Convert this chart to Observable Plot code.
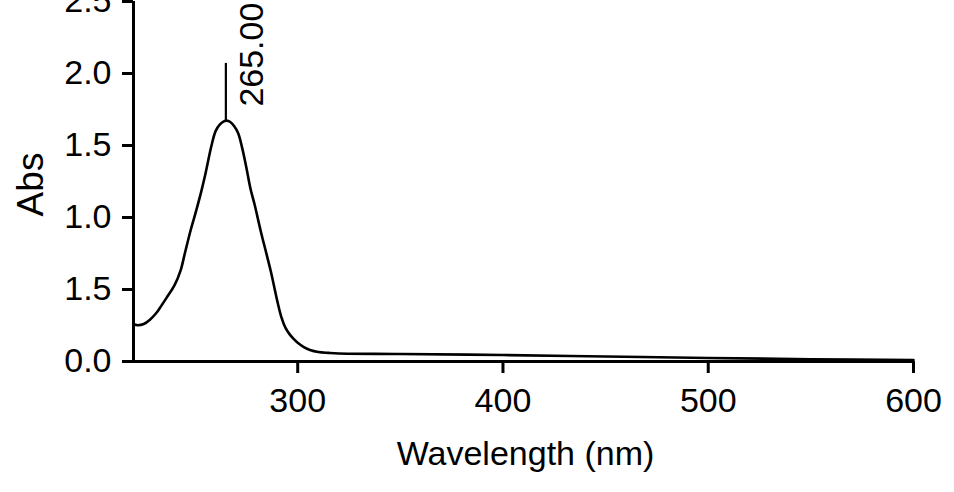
<!DOCTYPE html>
<html>
<head>
<meta charset="utf-8">
<script src="https://cdn.jsdelivr.net/npm/d3@7"></script>
<script src="https://cdn.jsdelivr.net/npm/@observablehq/plot@0.6"></script>
<style>
  html, body { margin: 0; padding: 0; background: #fff; }
  #chart svg { display: block; }
</style>
</head>
<body>
<div id="chart"></div>
<script>
// Spectrum data
const wavelength = [220, 222, 225, 228, 231, 233, 236, 240, 243, 245, 248, 250, 253, 255, 258, 260, 262, 264, 265.4, 267, 269, 271, 273, 275, 277, 279, 282, 285, 287, 290, 292, 294, 296, 298, 300, 303, 306, 310, 315, 320, 350, 400, 450, 500, 550, 600];
const absorbance = [0.258, 0.252, 0.26, 0.29, 0.335, 0.375, 0.44, 0.53, 0.635, 0.75, 0.92, 1.02, 1.18, 1.30, 1.50, 1.60, 1.645, 1.668, 1.673, 1.665, 1.635, 1.585, 1.48, 1.345, 1.20, 1.09, 0.905, 0.735, 0.62, 0.423, 0.31, 0.235, 0.19, 0.157, 0.13, 0.10, 0.08, 0.066, 0.06, 0.056, 0.052, 0.045, 0.035, 0.024, 0.016, 0.01];

// Peak annotation
const peakWavelength = [265];
const peakAbs = [1.673];
const peakLineTop = [2.07];
const peakLabelY = [1.77];
const peakLabels = ["265.00"];

// Axes
const xTicks = [300, 400, 500, 600];
const yTicks = [0, 0.5, 1.0, 1.5, 2.0, 2.5];
const yTickLabels = ["0.0", "1.5", "1.0", "1.5", "2.0", "2.5"];
const xTitle = "Wavelength (nm)";
const yTitle = "Abs";

const spectrum = wavelength.map((w, i) => ({w, a: absorbance[i]}));
const peaks = peakWavelength.map((w, i) => ({w, a: peakAbs[i], top: peakLineTop[i], ly: peakLabelY[i], label: peakLabels[i]}));

const font = "'Liberation Sans', Arial, Helvetica, sans-serif";

const chart = Plot.plot({
  width: 954,
  height: 492,
  marginLeft: 133,
  marginRight: 41,
  marginTop: 1,
  marginBottom: 131,
  style: {fontFamily: font, fontSize: "34px", color: "#000", background: "#fff", overflow: "visible"},
  x: {domain: [220, 600]},
  y: {domain: [0, 2.5]},
  marks: [
    Plot.axisY({
      ticks: yTicks,
      tickFormat: d => yTickLabels[yTicks.indexOf(d)],
      tickSize: 11,
      tickPadding: 11,
      strokeWidth: 3,
      fontSize: 34,
      label: null
    }),
    Plot.axisX({
      ticks: xTicks,
      tickFormat: d => String(d),
      tickSize: 12,
      tickPadding: 14,
      strokeWidth: 3,
      fontSize: 34,
      label: null
    }),
    Plot.ruleX([220], {y1: 0, y2: 2.5, strokeWidth: 3, stroke: "#000"}),
    Plot.ruleY([0], {x1: 220, x2: 600, strokeWidth: 3, stroke: "#000"}),
    Plot.line(spectrum, {x: "w", y: "a", curve: "catmull-rom", stroke: "#000", strokeWidth: 2.6}),
    Plot.ruleX(peaks, {x: "w", y1: "a", y2: "top", stroke: "#000", strokeWidth: 2.2}),
    Plot.text(peaks, {x: "w", y: "ly", text: "label", rotate: -90, textAnchor: "start", dx: 26, fontSize: 34, fill: "#000"}),
    Plot.text([xTitle], {frameAnchor: "bottom", textAnchor: "middle", lineAnchor: "top", dy: 79, dx: 2, fontSize: 34, fill: "#000"}),
    Plot.text([yTitle], {frameAnchor: "left", textAnchor: "middle", lineAnchor: "middle", rotate: -90, dx: -102, dy: 3, fontSize: 37, fill: "#000"})
  ]
});

document.getElementById("chart").appendChild(chart);
</script>
</body>
</html>
